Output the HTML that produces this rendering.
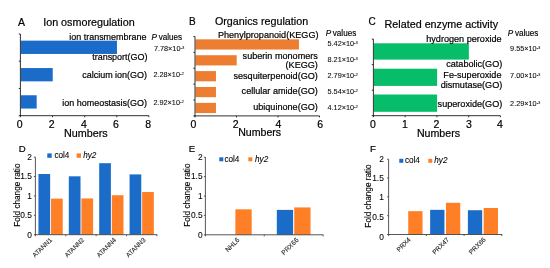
<!DOCTYPE html>
<html><head><meta charset="utf-8"><title>Figure</title>
<style>
html,body{margin:0;padding:0;background:#fff;}
body{width:550px;height:268px;overflow:hidden;}
svg{display:block;font-family:"Liberation Sans",Arial,sans-serif;}
text{stroke:#000;stroke-width:0.2px;}
text.t2{stroke-width:0.15px;}
text.pv{stroke-width:0.08px;}
text.xl{stroke:#222;stroke-width:0.1px;}
</style></head><body>
<svg width="550" height="268" viewBox="0 0 550 268">
<rect width="550" height="268" fill="#fff"/>
<text x="18" y="25.8" font-size="10.5" text-anchor="start" fill="#000">A</text>
<text x="43.2" y="25.8" font-size="10.75" text-anchor="start" fill="#000">Ion osmoregulation</text>
<rect x="20.90" y="40.65" width="96.06" height="13.30" fill="#1b6cc8"/>
<rect x="20.90" y="68.05" width="31.82" height="13.30" fill="#1b6cc8"/>
<rect x="20.90" y="95.25" width="15.76" height="13.30" fill="#1b6cc8"/>
<line x1="20.40" y1="34.00" x2="20.40" y2="116.15" stroke="#1a1a1a" stroke-width="0.9"/>
<line x1="19.95" y1="115.70" x2="148.88" y2="115.70" stroke="#1a1a1a" stroke-width="0.9"/>
<line x1="18.80" y1="34.00" x2="20.40" y2="34.00" stroke="#1a1a1a" stroke-width="0.9"/>
<line x1="18.80" y1="61.23" x2="20.40" y2="61.23" stroke="#1a1a1a" stroke-width="0.9"/>
<line x1="18.80" y1="88.47" x2="20.40" y2="88.47" stroke="#1a1a1a" stroke-width="0.9"/>
<line x1="18.80" y1="115.70" x2="20.40" y2="115.70" stroke="#1a1a1a" stroke-width="0.9"/>
<line x1="20.40" y1="115.70" x2="20.40" y2="117.20" stroke="#1a1a1a" stroke-width="0.9"/>
<text x="19.599999999999998" y="128.3" font-size="10.5" text-anchor="middle" fill="#000">0</text>
<line x1="52.52" y1="115.70" x2="52.52" y2="117.20" stroke="#1a1a1a" stroke-width="0.9"/>
<text x="51.72" y="128.3" font-size="10.5" text-anchor="middle" fill="#000">2</text>
<line x1="84.64" y1="115.70" x2="84.64" y2="117.20" stroke="#1a1a1a" stroke-width="0.9"/>
<text x="83.83999999999999" y="128.3" font-size="10.5" text-anchor="middle" fill="#000">4</text>
<line x1="116.76" y1="115.70" x2="116.76" y2="117.20" stroke="#1a1a1a" stroke-width="0.9"/>
<text x="115.96" y="128.3" font-size="10.5" text-anchor="middle" fill="#000">6</text>
<line x1="148.88" y1="115.70" x2="148.88" y2="117.20" stroke="#1a1a1a" stroke-width="0.9"/>
<text x="148.07999999999998" y="128.3" font-size="10.5" text-anchor="middle" fill="#000">8</text>
<text x="63.9" y="136.8" font-size="10.8" text-anchor="start" fill="#000">Numbers</text>
<text x="146.5" y="40.1" font-size="8.97" text-anchor="end" fill="#000">ion transmembrane</text>
<text x="147.5" y="60.1" font-size="8.97" text-anchor="end" fill="#000">transport(GO)</text>
<text x="147.0" y="77.8" font-size="8.97" text-anchor="end" fill="#000">calcium ion(GO)</text>
<text x="147.0" y="105.8" font-size="8.97" text-anchor="end" fill="#000">ion homeostasis(GO)</text>
<text class="t2" word-spacing="-0.6" x="151.6" y="39.9" font-size="8.15" fill="#000"><tspan font-style="italic">P</tspan> values</text>
<text class="pv" x="153.9" y="51.3" font-size="7.3" fill="#111">7.78×10<tspan font-size="4.23" dy="-1.97">-3</tspan></text>
<text class="pv" x="153.4" y="76.8" font-size="7.3" fill="#111">2.28×10<tspan font-size="4.23" dy="-1.97">-2</tspan></text>
<text class="pv" x="153.4" y="105.3" font-size="7.3" fill="#111">2.92×10<tspan font-size="4.23" dy="-1.97">-2</tspan></text>
<text x="189.1" y="25.4" font-size="10.0" text-anchor="start" fill="#000">B</text>
<text x="214.9" y="25.3" font-size="10.75" text-anchor="start" fill="#000">Organics regulation</text>
<rect x="195.50" y="39.34" width="103.45" height="10.20" fill="#ed7d31"/>
<rect x="195.50" y="55.22" width="41.20" height="10.20" fill="#ed7d31"/>
<rect x="195.50" y="71.10" width="20.45" height="10.20" fill="#ed7d31"/>
<rect x="195.50" y="86.98" width="20.45" height="10.20" fill="#ed7d31"/>
<rect x="195.50" y="102.86" width="20.45" height="10.20" fill="#ed7d31"/>
<line x1="195.00" y1="36.50" x2="195.00" y2="116.35" stroke="#1a1a1a" stroke-width="0.9"/>
<line x1="194.55" y1="115.90" x2="319.50" y2="115.90" stroke="#1a1a1a" stroke-width="0.9"/>
<line x1="193.40" y1="36.50" x2="195.00" y2="36.50" stroke="#1a1a1a" stroke-width="0.9"/>
<line x1="193.40" y1="52.38" x2="195.00" y2="52.38" stroke="#1a1a1a" stroke-width="0.9"/>
<line x1="193.40" y1="68.26" x2="195.00" y2="68.26" stroke="#1a1a1a" stroke-width="0.9"/>
<line x1="193.40" y1="84.14" x2="195.00" y2="84.14" stroke="#1a1a1a" stroke-width="0.9"/>
<line x1="193.40" y1="100.02" x2="195.00" y2="100.02" stroke="#1a1a1a" stroke-width="0.9"/>
<line x1="193.40" y1="115.90" x2="195.00" y2="115.90" stroke="#1a1a1a" stroke-width="0.9"/>
<line x1="195.00" y1="115.90" x2="195.00" y2="117.40" stroke="#1a1a1a" stroke-width="0.9"/>
<text x="193.5" y="128.3" font-size="10.5" text-anchor="middle" fill="#000">0</text>
<line x1="236.50" y1="115.90" x2="236.50" y2="117.40" stroke="#1a1a1a" stroke-width="0.9"/>
<text x="235.6" y="128.3" font-size="10.5" text-anchor="middle" fill="#000">2</text>
<line x1="278.00" y1="115.90" x2="278.00" y2="117.40" stroke="#1a1a1a" stroke-width="0.9"/>
<text x="278.3" y="128.3" font-size="10.5" text-anchor="middle" fill="#000">4</text>
<line x1="319.50" y1="115.90" x2="319.50" y2="117.40" stroke="#1a1a1a" stroke-width="0.9"/>
<text x="320.1" y="128.3" font-size="10.5" text-anchor="middle" fill="#000">6</text>
<text x="238.2" y="136.4" font-size="10.6" text-anchor="start" fill="#000">Numbers</text>
<text x="318.5" y="38.0" font-size="9.1" text-anchor="end" fill="#000">Phenylpropanoid(KEGG)</text>
<text x="317.9" y="59.3" font-size="9.1" text-anchor="end" fill="#000">suberin monomers</text>
<text x="317.9" y="67.8" font-size="9.1" text-anchor="end" fill="#000">(KEGG)</text>
<text x="317.9" y="78.5" font-size="9.1" text-anchor="end" fill="#000">sesquiterpenoid(GO)</text>
<text x="317.9" y="93.9" font-size="9.1" text-anchor="end" fill="#000">cellular amide(GO)</text>
<text x="317.9" y="109.7" font-size="9.1" text-anchor="end" fill="#000">ubiquinone(GO)</text>
<text class="t2" word-spacing="-0.6" x="325.7" y="35.8" font-size="8.15" fill="#000"><tspan font-style="italic">P</tspan> values</text>
<text class="pv" x="327.5" y="46.0" font-size="7.3" fill="#111">5.42×10<tspan font-size="4.23" dy="-1.97">-3</tspan></text>
<text class="pv" x="327.5" y="61.8" font-size="7.3" fill="#111">8.21×10<tspan font-size="4.23" dy="-1.97">-3</tspan></text>
<text class="pv" x="327.5" y="78.0" font-size="7.3" fill="#111">2.79×10<tspan font-size="4.23" dy="-1.97">-2</tspan></text>
<text class="pv" x="327.5" y="94.0" font-size="7.3" fill="#111">5.54×10<tspan font-size="4.23" dy="-1.97">-2</tspan></text>
<text class="pv" x="327.5" y="110.4" font-size="7.3" fill="#111">4.12×10<tspan font-size="4.23" dy="-1.97">-2</tspan></text>
<text x="368.4" y="25.3" font-size="10.0" text-anchor="start" fill="#000">C</text>
<text x="384.6" y="27.7" font-size="10.75" text-anchor="start" fill="#000">Related enzyme activity</text>
<rect x="373.90" y="43.30" width="94.95" height="16.30" fill="#08bd69"/>
<rect x="373.90" y="68.70" width="63.20" height="17.20" fill="#08bd69"/>
<rect x="373.90" y="94.50" width="63.20" height="17.30" fill="#08bd69"/>
<line x1="373.40" y1="39.10" x2="373.40" y2="116.15" stroke="#1a1a1a" stroke-width="0.9"/>
<line x1="372.95" y1="115.70" x2="500.40" y2="115.70" stroke="#1a1a1a" stroke-width="0.9"/>
<line x1="371.80" y1="39.10" x2="373.40" y2="39.10" stroke="#1a1a1a" stroke-width="0.9"/>
<line x1="371.80" y1="64.63" x2="373.40" y2="64.63" stroke="#1a1a1a" stroke-width="0.9"/>
<line x1="371.80" y1="90.17" x2="373.40" y2="90.17" stroke="#1a1a1a" stroke-width="0.9"/>
<line x1="371.80" y1="115.70" x2="373.40" y2="115.70" stroke="#1a1a1a" stroke-width="0.9"/>
<line x1="373.40" y1="115.70" x2="373.40" y2="117.20" stroke="#1a1a1a" stroke-width="0.9"/>
<text x="372.79999999999995" y="128.2" font-size="10.5" text-anchor="middle" fill="#000">0</text>
<line x1="405.15" y1="115.70" x2="405.15" y2="117.20" stroke="#1a1a1a" stroke-width="0.9"/>
<text x="404.95" y="128.2" font-size="10.5" text-anchor="middle" fill="#000">1</text>
<line x1="436.90" y1="115.70" x2="436.90" y2="117.20" stroke="#1a1a1a" stroke-width="0.9"/>
<text x="436.5" y="128.2" font-size="10.5" text-anchor="middle" fill="#000">2</text>
<line x1="468.65" y1="115.70" x2="468.65" y2="117.20" stroke="#1a1a1a" stroke-width="0.9"/>
<text x="468.84999999999997" y="128.2" font-size="10.5" text-anchor="middle" fill="#000">3</text>
<line x1="500.40" y1="115.70" x2="500.40" y2="117.20" stroke="#1a1a1a" stroke-width="0.9"/>
<text x="499.79999999999995" y="128.2" font-size="10.5" text-anchor="middle" fill="#000">4</text>
<text x="416.9" y="136.7" font-size="10.65" text-anchor="start" fill="#000">Numbers</text>
<text x="501.6" y="42.2" font-size="9.1" text-anchor="end" fill="#000">hydrogen peroxide</text>
<text x="502.3" y="67.0" font-size="9.1" text-anchor="end" fill="#000">catabolic(GO)</text>
<text x="501.5" y="78.4" font-size="9.1" text-anchor="end" fill="#000">Fe-superoxide</text>
<text x="502.3" y="87.9" font-size="9.1" text-anchor="end" fill="#000">dismutase(GO)</text>
<text x="502.3" y="106.8" font-size="9.1" text-anchor="end" fill="#000">superoxide(GO)</text>
<text class="t2" word-spacing="-0.6" x="507.8" y="36.1" font-size="8.15" fill="#000"><tspan font-style="italic">P</tspan> values</text>
<text class="pv" x="510.1" y="50.5" font-size="7.3" fill="#111">9.55×10<tspan font-size="4.23" dy="-1.97">-3</tspan></text>
<text class="pv" x="510.1" y="78.4" font-size="7.3" fill="#111">7.00×10<tspan font-size="4.23" dy="-1.97">-3</tspan></text>
<text class="pv" x="510.1" y="106.4" font-size="7.3" fill="#111">2.29×10<tspan font-size="4.23" dy="-1.97">-3</tspan></text>
<text x="18.7" y="152.1" font-size="9.6" text-anchor="start" fill="#000">D</text>
<rect x="38.44" y="174.02" width="11.70" height="60.68" fill="#1b6cc8"/>
<rect x="51.04" y="198.62" width="11.70" height="36.08" fill="#ff7f27"/>
<rect x="68.81" y="176.31" width="11.70" height="58.39" fill="#1b6cc8"/>
<rect x="81.41" y="198.42" width="11.70" height="36.28" fill="#ff7f27"/>
<rect x="99.19" y="163.19" width="11.70" height="71.51" fill="#1b6cc8"/>
<rect x="111.79" y="195.20" width="11.70" height="39.50" fill="#ff7f27"/>
<rect x="129.56" y="174.40" width="11.70" height="60.30" fill="#1b6cc8"/>
<rect x="142.16" y="192.02" width="11.70" height="42.68" fill="#ff7f27"/>
<line x1="35.40" y1="157.10" x2="35.40" y2="235.10" stroke="#444" stroke-width="0.9"/>
<line x1="35.00" y1="234.70" x2="157.20" y2="234.70" stroke="#444" stroke-width="0.9"/>
<line x1="33.90" y1="157.10" x2="35.40" y2="157.10" stroke="#444" stroke-width="0.9"/>
<text x="31.799999999999997" y="160.4" font-size="8.4" text-anchor="end" fill="#000" class="pv">2</text>
<line x1="33.90" y1="176.50" x2="35.40" y2="176.50" stroke="#444" stroke-width="0.9"/>
<text x="31.799999999999997" y="178.7" font-size="8.4" text-anchor="end" fill="#000" class="pv">1.5</text>
<line x1="33.90" y1="195.90" x2="35.40" y2="195.90" stroke="#444" stroke-width="0.9"/>
<text x="31.799999999999997" y="198.6" font-size="8.4" text-anchor="end" fill="#000" class="pv">1</text>
<line x1="33.90" y1="215.30" x2="35.40" y2="215.30" stroke="#444" stroke-width="0.9"/>
<text x="31.799999999999997" y="218.3" font-size="8.4" text-anchor="end" fill="#000" class="pv">0.5</text>
<line x1="33.90" y1="234.70" x2="35.40" y2="234.70" stroke="#444" stroke-width="0.9"/>
<text x="31.799999999999997" y="238.3" font-size="8.4" text-anchor="end" fill="#000" class="pv">0</text>
<line x1="35.40" y1="234.70" x2="35.40" y2="236.20" stroke="#444" stroke-width="0.9"/>
<line x1="65.78" y1="234.70" x2="65.78" y2="236.20" stroke="#444" stroke-width="0.9"/>
<line x1="96.15" y1="234.70" x2="96.15" y2="236.20" stroke="#444" stroke-width="0.9"/>
<line x1="126.53" y1="234.70" x2="126.53" y2="236.20" stroke="#444" stroke-width="0.9"/>
<line x1="156.90" y1="234.70" x2="156.90" y2="236.20" stroke="#444" stroke-width="0.9"/>
<text class="xl" transform="translate(49.59,237.40) rotate(-45)" font-size="6.5" text-anchor="end" fill="#222" dy="4.2">ATANN1</text>
<text class="xl" transform="translate(81.66,237.40) rotate(-45)" font-size="6.5" text-anchor="end" fill="#222" dy="4.2">ATANN2</text>
<text class="xl" transform="translate(113.64,237.40) rotate(-45)" font-size="6.5" text-anchor="end" fill="#222" dy="4.2">ATANN4</text>
<text class="xl" transform="translate(143.01,237.40) rotate(-45)" font-size="6.5" text-anchor="end" fill="#222" dy="4.2">ATANN3</text>
<text class="t2" transform="translate(19.6,195.2) rotate(-90)" font-size="8.2" text-anchor="middle" fill="#000">Fold change ratio</text>
<rect x="47.30" y="153.40" width="4.40" height="4.40" fill="#1b6cc8"/>
<text x="54.4" y="157.7" font-size="8.2" text-anchor="start" fill="#000" class="pv">col4</text>
<rect x="76.60" y="153.40" width="4.40" height="4.40" fill="#ff7f27"/>
<text x="83.2" y="157.7" font-size="8.2" text-anchor="start" fill="#000" class="pv" font-style="italic">hy2</text>
<text x="188.7" y="152.1" font-size="9.6" text-anchor="start" fill="#000">E</text>
<rect x="235.38" y="209.31" width="16.30" height="25.49" fill="#ff7f27"/>
<rect x="276.82" y="209.89" width="16.30" height="24.91" fill="#1b6cc8"/>
<rect x="294.23" y="207.41" width="16.30" height="27.39" fill="#ff7f27"/>
<line x1="205.40" y1="157.20" x2="205.40" y2="235.20" stroke="#444" stroke-width="0.9"/>
<line x1="205.00" y1="234.80" x2="323.40" y2="234.80" stroke="#444" stroke-width="0.9"/>
<line x1="203.90" y1="157.20" x2="205.40" y2="157.20" stroke="#444" stroke-width="0.9"/>
<text x="202.6" y="160.3" font-size="8.4" text-anchor="end" fill="#000" class="pv">2</text>
<line x1="203.90" y1="176.60" x2="205.40" y2="176.60" stroke="#444" stroke-width="0.9"/>
<text x="202.6" y="178.6" font-size="8.4" text-anchor="end" fill="#000" class="pv">1.5</text>
<line x1="203.90" y1="196.00" x2="205.40" y2="196.00" stroke="#444" stroke-width="0.9"/>
<text x="202.6" y="198.5" font-size="8.4" text-anchor="end" fill="#000" class="pv">1</text>
<line x1="203.90" y1="215.40" x2="205.40" y2="215.40" stroke="#444" stroke-width="0.9"/>
<text x="202.6" y="218.2" font-size="8.4" text-anchor="end" fill="#000" class="pv">0.5</text>
<line x1="203.90" y1="234.80" x2="205.40" y2="234.80" stroke="#444" stroke-width="0.9"/>
<text x="202.6" y="238.2" font-size="8.4" text-anchor="end" fill="#000" class="pv">0</text>
<line x1="205.40" y1="234.80" x2="205.40" y2="236.30" stroke="#444" stroke-width="0.9"/>
<line x1="264.25" y1="234.80" x2="264.25" y2="236.30" stroke="#444" stroke-width="0.9"/>
<line x1="323.10" y1="234.80" x2="323.10" y2="236.30" stroke="#444" stroke-width="0.9"/>
<text class="xl" transform="translate(237.03,237.50) rotate(-45)" font-size="6.7" text-anchor="end" fill="#222" dy="4.2">NHL6</text>
<text class="xl" transform="translate(296.07,237.50) rotate(-45)" font-size="6.7" text-anchor="end" fill="#222" dy="4.2">PRX66</text>
<text class="t2" transform="translate(189.8,195.2) rotate(-90)" font-size="8.2" text-anchor="middle" fill="#000">Fold change ratio</text>
<rect x="219.30" y="157.30" width="4.00" height="4.00" fill="#1b6cc8"/>
<text x="224.4" y="161.6" font-size="8.2" text-anchor="start" fill="#000" class="pv">col4</text>
<rect x="248.30" y="157.30" width="4.00" height="4.00" fill="#ff7f27"/>
<text x="255.0" y="161.6" font-size="8.2" text-anchor="start" fill="#000" class="pv" font-style="italic">hy2</text>
<text x="370.1" y="152.1" font-size="9.6" text-anchor="start" fill="#000">F</text>
<rect x="408.22" y="211.16" width="14.30" height="23.34" fill="#ff7f27"/>
<rect x="430.15" y="209.84" width="14.30" height="24.66" fill="#1b6cc8"/>
<rect x="445.95" y="202.80" width="14.30" height="31.70" fill="#ff7f27"/>
<rect x="467.88" y="210.22" width="14.30" height="24.28" fill="#1b6cc8"/>
<rect x="483.68" y="207.99" width="14.30" height="26.51" fill="#ff7f27"/>
<line x1="388.60" y1="159.20" x2="388.60" y2="234.90" stroke="#444" stroke-width="0.9"/>
<line x1="388.20" y1="234.50" x2="502.10" y2="234.50" stroke="#444" stroke-width="0.9"/>
<line x1="387.10" y1="159.20" x2="388.60" y2="159.20" stroke="#444" stroke-width="0.9"/>
<text x="383.8" y="161.8" font-size="8.4" text-anchor="end" fill="#000" class="pv">2</text>
<line x1="387.10" y1="178.02" x2="388.60" y2="178.02" stroke="#444" stroke-width="0.9"/>
<text x="383.8" y="180.8" font-size="8.4" text-anchor="end" fill="#000" class="pv">1.5</text>
<line x1="387.10" y1="196.85" x2="388.60" y2="196.85" stroke="#444" stroke-width="0.9"/>
<text x="383.8" y="200.3" font-size="8.4" text-anchor="end" fill="#000" class="pv">1</text>
<line x1="387.10" y1="215.68" x2="388.60" y2="215.68" stroke="#444" stroke-width="0.9"/>
<text x="383.8" y="220.1" font-size="8.4" text-anchor="end" fill="#000" class="pv">0.5</text>
<line x1="387.10" y1="234.50" x2="388.60" y2="234.50" stroke="#444" stroke-width="0.9"/>
<text x="383.8" y="239.5" font-size="8.4" text-anchor="end" fill="#000" class="pv">0</text>
<line x1="388.60" y1="234.50" x2="388.60" y2="236.00" stroke="#444" stroke-width="0.9"/>
<line x1="426.33" y1="234.50" x2="426.33" y2="236.00" stroke="#444" stroke-width="0.9"/>
<line x1="464.07" y1="234.50" x2="464.07" y2="236.00" stroke="#444" stroke-width="0.9"/>
<line x1="501.80" y1="234.50" x2="501.80" y2="236.00" stroke="#444" stroke-width="0.9"/>
<text class="xl" transform="translate(408.17,237.20) rotate(-45)" font-size="6.5" text-anchor="end" fill="#222" dy="4.2">PRX4</text>
<text class="xl" transform="translate(446.60,237.20) rotate(-45)" font-size="6.5" text-anchor="end" fill="#222" dy="4.2">PRX47</text>
<text class="xl" transform="translate(483.13,237.20) rotate(-45)" font-size="6.5" text-anchor="end" fill="#222" dy="4.2">PRX66</text>
<text class="t2" transform="translate(371.2,196.0) rotate(-90)" font-size="8.2" text-anchor="middle" fill="#000">Fold change ratio</text>
<rect x="399.30" y="158.80" width="4.00" height="4.00" fill="#1b6cc8"/>
<text x="404.9" y="163.3" font-size="8.2" text-anchor="start" fill="#000" class="pv">col4</text>
<rect x="428.30" y="158.80" width="4.00" height="4.00" fill="#ff7f27"/>
<text x="434.3" y="163.3" font-size="8.2" text-anchor="start" fill="#000" class="pv" font-style="italic">hy2</text>
</svg>
</body></html>
